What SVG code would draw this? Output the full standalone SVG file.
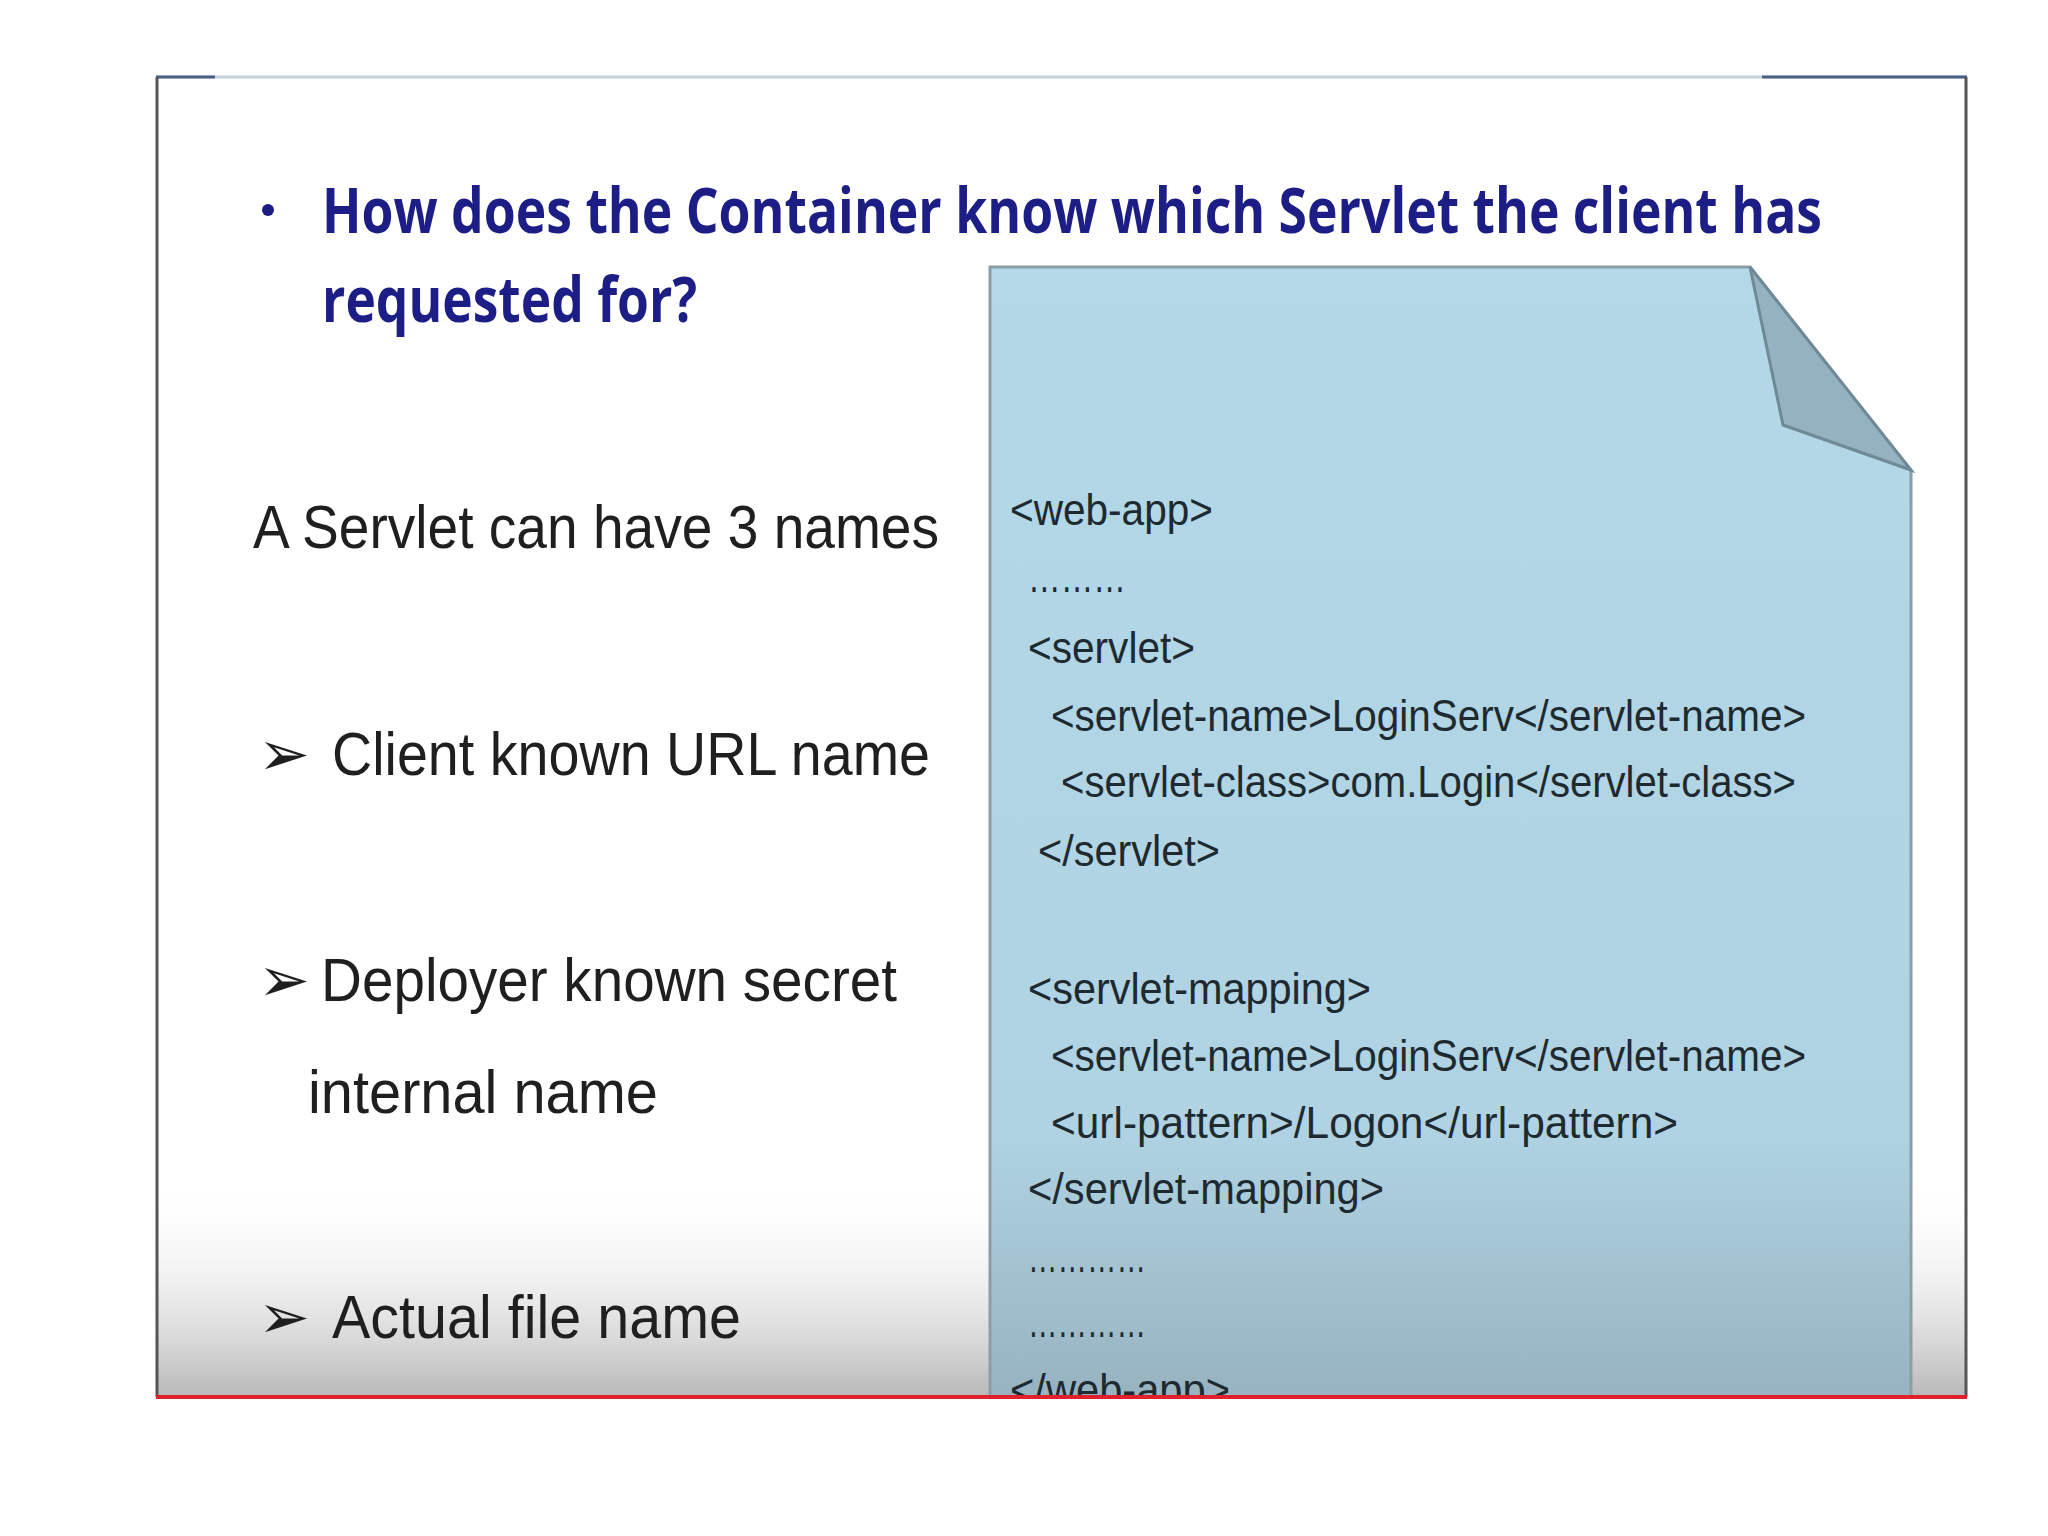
<svg xmlns="http://www.w3.org/2000/svg" width="2048" height="1536" viewBox="0 0 2048 1536">
<defs>
<linearGradient id="fade" x1="0" y1="0" x2="0" y2="1">
<stop offset="0" stop-color="#ffffff" stop-opacity="0"/>
<stop offset="1" stop-color="#b0b0b0" stop-opacity="0.9"/>
</linearGradient>
<linearGradient id="doc" x1="0" y1="0" x2="0" y2="1">
<stop offset="0" stop-color="#b3d8e8"/>
<stop offset="0.75" stop-color="#afd3e3"/>
<stop offset="1" stop-color="#95b0bd"/>
</linearGradient>
<clipPath id="slide"><rect x="156" y="77" width="1811" height="1320"/></clipPath>
</defs>
<style>
.title{font-family:"Open Sans","Liberation Sans",sans-serif;font-weight:bold;font-size:62px;fill:#1d1d86}
.body{font-family:"Liberation Sans",sans-serif;font-size:62px;fill:#1f1f1f}
.code{font-family:"Liberation Sans",sans-serif;font-size:44px;fill:#1e2a30}
</style>
<rect width="2048" height="1536" fill="#ffffff"/>
<g id="slide-frame">
<rect x="156" y="1180" width="1811" height="217" fill="url(#fade)"/>
<line x1="156" y1="77" x2="1967" y2="77" stroke="#c6cfdc" stroke-width="3"/>
<line x1="156" y1="77" x2="215" y2="77" stroke="#4b5f86" stroke-width="3"/>
<line x1="1762" y1="77" x2="1967" y2="77" stroke="#4b5f86" stroke-width="3"/>
<line x1="157" y1="77" x2="157" y2="1397" stroke="#555" stroke-width="3"/>
<line x1="1966" y1="77" x2="1966" y2="1397" stroke="#555" stroke-width="3"/>
</g>
<g id="title">
<circle cx="268" cy="210" r="6" fill="#1d1d86"/>
<text class="title" x="322" y="233" textLength="1500" lengthAdjust="spacingAndGlyphs">How does the Container know which Servlet the client has</text>
<text class="title" x="322" y="322" textLength="375" lengthAdjust="spacingAndGlyphs">requested for?</text>
</g>
<g id="names">
<text class="body" x="253" y="548" textLength="686" lengthAdjust="spacingAndGlyphs">A Servlet can have 3 names</text>
<text class="body" x="258" y="775" font-size="50">➢</text>
<text class="body" x="332" y="775" textLength="598" lengthAdjust="spacingAndGlyphs">Client known URL name</text>
<text class="body" x="258" y="1001" font-size="50">➢</text>
<text class="body" x="321" y="1001" textLength="576" lengthAdjust="spacingAndGlyphs">Deployer known secret</text>
<text class="body" x="308" y="1113" textLength="350" lengthAdjust="spacingAndGlyphs">internal name</text>
<text class="body" x="258" y="1338" font-size="50">➢</text>
<text class="body" x="332" y="1338" textLength="409" lengthAdjust="spacingAndGlyphs">Actual file name</text>
</g>
<g id="document" clip-path="url(#slide)">
<path d="M990 267 L1750 267 L1911 470 L1911 1420 L990 1420 Z" fill="url(#doc)" stroke="#8b9ea8" stroke-width="3"/>
<path d="M1750 267 L1783 425 L1911 470 Z" fill="#94b2bf" stroke="#6f8a96" stroke-width="3"/>
<text class="code" x="1010" y="525" textLength="203" lengthAdjust="spacingAndGlyphs">&lt;web-app&gt;</text>
<text class="code" x="1028" y="592" textLength="98" lengthAdjust="spacingAndGlyphs">………</text>
<text class="code" x="1028" y="663" textLength="167" lengthAdjust="spacingAndGlyphs">&lt;servlet&gt;</text>
<text class="code" x="1051" y="731" textLength="755" lengthAdjust="spacingAndGlyphs">&lt;servlet-name&gt;LoginServ&lt;/servlet-name&gt;</text>
<text class="code" x="1061" y="797" textLength="735" lengthAdjust="spacingAndGlyphs">&lt;servlet-class&gt;com.Login&lt;/servlet-class&gt;</text>
<text class="code" x="1038" y="866" textLength="182" lengthAdjust="spacingAndGlyphs">&lt;/servlet&gt;</text>
<text class="code" x="1028" y="1004" textLength="343" lengthAdjust="spacingAndGlyphs">&lt;servlet-mapping&gt;</text>
<text class="code" x="1051" y="1071" textLength="755" lengthAdjust="spacingAndGlyphs">&lt;servlet-name&gt;LoginServ&lt;/servlet-name&gt;</text>
<text class="code" x="1051" y="1138" textLength="627" lengthAdjust="spacingAndGlyphs">&lt;url-pattern&gt;/Logon&lt;/url-pattern&gt;</text>
<text class="code" x="1028" y="1204" textLength="356" lengthAdjust="spacingAndGlyphs">&lt;/servlet-mapping&gt;</text>
<text class="code" x="1028" y="1272" textLength="118" lengthAdjust="spacingAndGlyphs">…………</text>
<text class="code" x="1028" y="1337" textLength="118" lengthAdjust="spacingAndGlyphs">…………</text>
<text class="code" x="1010" y="1405" textLength="220" lengthAdjust="spacingAndGlyphs">&lt;/web-app&gt;</text>
</g>
<line x1="156" y1="1397" x2="1967" y2="1397" stroke="#e0202a" stroke-width="4"/>
</svg>
